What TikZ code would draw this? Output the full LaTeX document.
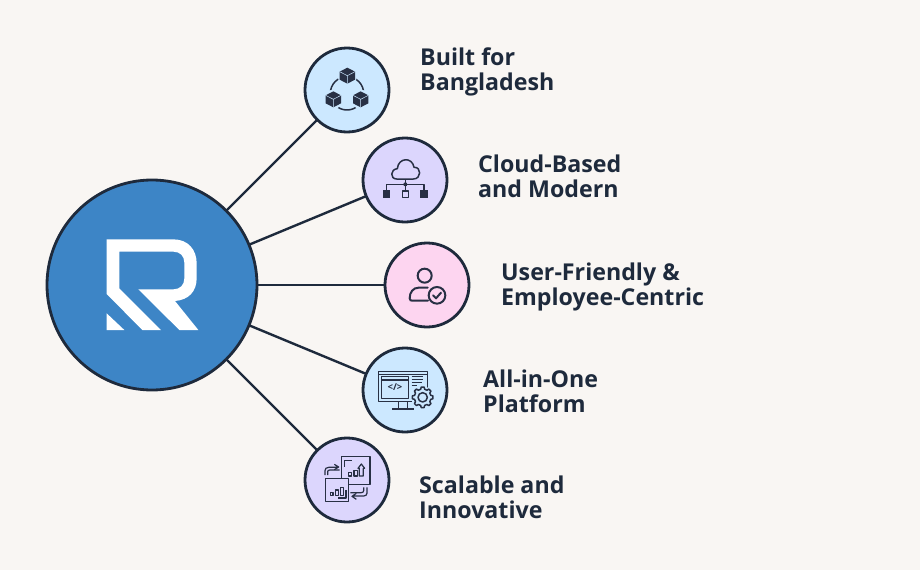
\documentclass[tikz,border=0pt]{standalone}
\usepackage{fontspec}
\usetikzlibrary{calc}
\newfontfamily\lblfont{Open Sans Bold}
\definecolor{bgc}{HTML}{F9F6F3}
\definecolor{ink}{HTML}{1E2A3C}
\definecolor{hub}{HTML}{3D85C6}
\definecolor{skyc}{HTML}{CCE8FF}
\definecolor{lav}{HTML}{DCD6FD}
\definecolor{pinkc}{HTML}{FDD5F0}
\definecolor{icn}{HTML}{283044}
\tikzset{
  hubnode/.style={circle,draw=ink,line width=2.8pt,fill=hub,minimum size=210pt,inner sep=0pt,outer sep=0pt},
  spoke/.style={circle,draw=ink,line width=2.8pt,minimum size=84pt,inner sep=0pt,outer sep=0pt},
  link/.style={draw=ink,line width=2.4pt},
  lbl/.style={anchor=west,align=left,text=ink,font=\fontsize{23.2}{25}\selectfont\lblfont,inner sep=0pt},
  thin/.style={draw=icn,line width=1.5pt,line join=round},
  fine/.style={draw=icn,line width=1.2pt,line join=round}
}
\newcommand{\cubeat}[2]{%
  \fill[icn] (#1,#2-24) -- (#1+23,#2-12) -- (#1+23,#2+12) -- (#1,#2+24) -- (#1-23,#2+12) -- (#1-23,#2-12) -- cycle;
  \draw[skyc,line width=.5pt] (#1-23,#2-12) -- (#1,#2) -- (#1+23,#2-12) (#1,#2) -- (#1,#2+24);
}
\begin{document}
\begin{tikzpicture}[x=1pt,y=-1pt]
\useasboundingbox (0,0) rectangle (920,570);
\fill[bgc] (0,0) rectangle (920,570);
\node[hubnode] (hub) at (152,285) {};
\node[spoke,fill=skyc] (s1) at (347,90) {};
\node[spoke,fill=lav] (s2) at (405,180) {};
\node[spoke,fill=pinkc] (s3) at (427,285) {};
\node[spoke,fill=skyc] (s4) at (405,390) {};
\node[spoke,fill=lav] (s5) at (347,480) {};
\foreach \t in {s1,s2,s3,s4,s5} \draw[link] (hub) -- (\t);
\node[lbl] (t1) at (420,72) {Built for\\Bangladesh};
\node[lbl] (t2) at (478,176) {Cloud-Based\\and Modern};
\node[lbl] (t3) at (501,287) {User-Friendly \&\\Employee-Centric};
\node[lbl] (t4) at (483,391) {All-in-One\\Platform};
\node[lbl] (t5) at (419,497) {Scalable and\\Innovative};
% logo
\begin{scope}[shift={(80,220)},scale=1/3]
\fill[white] (80,58) -- (280,58) .. controls (325,58) and (350,90) .. (350,130) -- (350,175) .. controls (350,215) and (325,240) .. (285,243) -- (355,330) -- (298,330) -- (175,208) -- (280,208) .. controls (300,208) and (313,195) .. (313,175) -- (313,128) .. controls (313,108) and (300,95) .. (280,95) -- (118,95) -- (118,205) -- (243,330) -- (187,330) -- (80,222) -- cycle;
\fill[white] (80,280) -- (133,330) -- (80,330) -- cycle;
\end{scope}
% icon 1
\begin{scope}[shift={(295,40)},scale=1/3]
\draw[thin] (156,160) circle (50);
\fill[skyc] (157,107) circle (29) (115,178) circle (29) (197,178) circle (29);
\cubeat{157}{107}\cubeat{115}{178}\cubeat{197}{178}
\end{scope}
% icon 2
\begin{scope}[shift={(355,130)},scale=1/3]
\draw[thin] (125,147) .. controls (105,147) and (105,118) .. (127,116) .. controls (130,82) and (172,80) .. (177,112) .. controls (200,110) and (200,147) .. (175,147) -- cycle;
\draw[thin] (151,147) -- (151,182) (95,182) -- (95,163) -- (207,163) -- (207,182);
\fill[icn] (151,163) circle (6);
\fill[icn] (84,181) rectangle (106,203);
\fill[icn] (196,181) rectangle (218,203);
\draw[thin] (142,183) rectangle (160,202);
\end{scope}
% icon 3
\begin{scope}[shift={(377,235)},scale=1/3]
\draw[icn,line width=2pt] (143,122) circle (21);
\draw[icn,line width=2pt,line cap=round] (152,158) -- (125,158) .. controls (108,158) and (98,172) .. (98,190) .. controls (98,196) and (102,197) .. (106,197) -- (153,197);
\draw[icn,line width=2pt] (180,181) circle (25);
\draw[icn,line width=2pt,line cap=round,line join=round] (168,181) -- (177,190) -- (192,173);
\end{scope}
% icon 4
\begin{scope}[shift={(355,340)},scale=1/3]
\draw[thin] (172,184) -- (71,184) -- (71,95) -- (217,95) -- (217,145);
\draw[thin] (71,103) -- (217,103);
\draw[thin] (80,110) rectangle (160,175);
\draw[fine] (80,120) -- (160,120);
\draw[thin] (170,110) -- (205,110) (170,119) -- (205,119) (170,128) -- (200,128) (170,137) -- (186,137);
\node[font=\fontsize{9.5}{10}\selectfont\lblfont,text=icn,inner sep=0pt] (code) at (120,140) {</>};
\draw[thin] (130,184) -- (130,205) (158,184) -- (158,205) (112,207) -- (178,207);
\fill[skyc] (203,172) circle (33);
\draw[thin] ($(203,172)+(-14:25)$) \foreach \a in {0,45,...,315}{ -- ($(203,172)+(\a-14:25)$) -- ($(203,172)+(\a-8:31)$) -- ($(203,172)+(\a+8:31)$) -- ($(203,172)+(\a+14:25)$) } -- cycle;
\draw[thin] (203,172) circle (14);
\end{scope}
% icon 5
\begin{scope}[shift={(297,430)},scale=1/3]
\draw[thin] (134,80) rectangle (219,163);
\fill[lav] (85,145) rectangle (155,215);
\draw[thin] (85,145) rectangle (155,215);
\draw[fine] (142,110) -- (142,92) -- (165,92);
\draw[fine] (154,128) rectangle (163,138) (171,122) rectangle (182,138);
\draw[fine] (187,138) -- (187,115) -- (183,115) -- (193,102) -- (203,115) -- (199,115) -- (199,138) -- cycle;
\draw[fine] (100,188) rectangle (108,196) (115,180) rectangle (125,196) (130,172) rectangle (140,196);
\draw[fine] (147,180) -- (147,204) -- (122,204);
\draw[fine] (84,135) -- (84,122) .. controls (84,116) and (88,112) .. (95,112) -- (125,112) (112,103) -- (125,111) -- (112,119);
\draw[fine] (92,135) -- (92,125) .. controls (92,122) and (95,120) .. (98,120) -- (128,120);
\draw[fine] (210,172) -- (210,190) .. controls (210,195) and (205,198) .. (200,198) -- (165,198) (178,190) -- (165,199) -- (178,208);
\draw[fine] (200,172) -- (200,182) .. controls (200,186) and (197,188) .. (193,188) -- (160,188);
\end{scope}
\end{tikzpicture}
\end{document}
